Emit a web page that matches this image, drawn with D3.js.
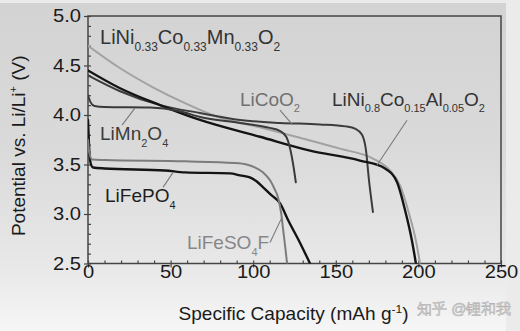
<!DOCTYPE html>
<html><head><meta charset="utf-8">
<script src="https://cdn.jsdelivr.net/npm/d3@7"></script>
<style>
html,body{margin:0;padding:0;background:#e9e9e9;}
svg{display:block;}
text{font-family:"Liberation Sans",Arial,Helvetica,sans-serif;}
</style></head><body>
<svg id="c" width="520" height="331"></svg>
<script>
// ---- data (capacity mAh/g, potential V) ----
const xTicks = [0, 50, 100, 150, 200, 250];
const xTickLabels = ["0", "50", "100", "150", "200", "250"];
const yTicks = [2.5, 3.0, 3.5, 4.0, 4.5, 5.0];
const yTickLabels = ["2.5", "3.0", "3.5", "4.0", "4.5", "5.0"];

const ncm = [[0,4.70],[18.8,4.48],[39.3,4.28],[58.7,4.12],[78.7,3.98],[102.9,3.88],[128.3,3.77],[152.5,3.66],[172.5,3.56],[182.8,3.44],[188.9,3.29],[194.9,2.97],[198.5,2.73],[201,2.5]];
const lco = [[0,4.40],[19.4,4.24],[43.6,4.10],[67.8,4.02],[92,3.95],[116.2,3.92],[140.4,3.905],[156,3.885],[162,3.86],[165.9,3.80],[168.3,3.64],[170.1,3.34],[172.5,3.02]];
const nca = [[0,4.45],[19.4,4.27],[43.6,4.10],[67.8,3.95],[104.1,3.78],[134.4,3.64],[164.6,3.54],[179.8,3.46],[187.1,3.32],[191.9,3.04],[196.1,2.73],[198.5,2.5]];
const lmo = [[0,4.20],[1.5,4.13],[4,4.09],[10,4.08],[37.5,4.075],[55,4.04],[67.8,3.98],[92,3.92],[110,3.87],[116,3.84],[120,3.78],[122.5,3.65],[124.2,3.50],[125.8,3.32]];
const lfp = [[0,3.95],[0.6,3.70],[1.5,3.52],[3,3.47],[10,3.46],[46.6,3.44],[58.7,3.42],[86,3.41],[92,3.39],[98,3.37],[102,3.33],[106,3.27],[111,3.19],[116.2,3.11],[121.1,2.94],[128.3,2.71],[134.4,2.5]];
const lfsf = [[0,3.75],[0.8,3.62],[2.5,3.55],[10,3.545],[58.7,3.532],[89,3.515],[96,3.50],[101,3.47],[106,3.42],[110.2,3.34],[113,3.25],[115,3.17],[117,3.00],[118,2.86],[119.5,2.65],[120.5,2.5]];

const seriesNames = ["NCM","LCO","NCA","LMO","LFP","LFSF"];
const seriesData = [ncm, lco, nca, lmo, lfp, lfsf];
const seriesColors = ["#a2a2a2","#3c3c3c","#141414","#3a3a3a","#141414","#7c7c7c"];
const seriesWidths = [2, 2, 2.4, 2, 2.4, 2];

// labels: [parts], anchor (capacity, potential), colour, size
const labels = [
  {parts:[["LiNi",0],["0.33",1],["Co",0],["0.33",1],["Mn",0],["0.33",1],["O",0],["2",1]], at:[7.3,4.717], color:"#333", size:20, sub:12},
  {parts:[["LiCoO",0],["2",1]], at:[92.0,4.089], color:"#707070", size:19, sub:11},
  {parts:[["LiNi",0],["0.8",1],["Co",0],["0.15",1],["Al",0],["0.05",1],["O",0],["2",1]], at:[147.7,4.089], color:"#333", size:19, sub:11},
  {parts:[["LiMn",0],["2",1],["O",0],["4",1]], at:[7.3,3.745], color:"#3c3c3c", size:19, sub:11},
  {parts:[["LiFePO",0],["4",1]], at:[10.3,3.117], color:"#1e1e1e", size:19, sub:11},
  {parts:[["LiFeSO",0],["4",1],["F",0]], at:[59.9,2.642], color:"#878787", size:19, sub:11}
];
const leaders = [
  [[116.2,4.049],[123.5,3.907]],
  [[193.1,3.947],[174.9,3.492]],
  [[20.6,3.897],[28.4,4.069]],
  [[45.4,3.269],[51.5,3.421]],
  [[110.2,2.713],[117.4,2.966]]
];

// ---- drawing ----
const svg = d3.select("#c");
const W = 520, H = 331;
const x = d3.scaleLinear().domain([0,250]).range([88,501]);
const y = d3.scaleLinear().domain([2.5,5]).range([263.5,16]);
const SX = 1.12;

const defs = svg.append("defs");
const g1 = defs.append("linearGradient").attr("id","bg").attr("x1",0).attr("y1",0).attr("x2",0).attr("y2",1);
g1.append("stop").attr("offset","0").attr("stop-color","#d3d3d3");
g1.append("stop").attr("offset","0.45").attr("stop-color","#dadada");
g1.append("stop").attr("offset","0.8").attr("stop-color","#e8e8e8");
g1.append("stop").attr("offset","1").attr("stop-color","#f6f6f6");
svg.append("rect").attr("width",W).attr("height",H).attr("fill","#ebebeb");
svg.append("rect").attr("x",0).attr("y",3).attr("width",506).attr("height",H-3).attr("fill","url(#bg)");

// axes
const axB = svg.append("g").attr("transform",`translate(0,${y(2.5)})`)
  .call(d3.axisBottom(x).tickValues(xTicks).tickFormat((d,i)=>xTickLabels[i]).tickSizeInner(4).tickSizeOuter(0).tickPadding(-2));
const axBm = svg.append("g").attr("transform",`translate(0,${y(2.5)})`)
  .call(d3.axisTop(x).tickValues(d3.range(0,251,10)).tickFormat("").tickSizeInner(3).tickSizeOuter(0));
const axL = svg.append("g").attr("transform",`translate(${x(0)},0)`)
  .call(d3.axisLeft(y).tickValues(yTicks).tickFormat((d,i)=>yTickLabels[i]).tickSizeInner(4).tickSizeOuter(0).tickPadding(3));
const axLm = svg.append("g").attr("transform",`translate(${x(0)},0)`)
  .call(d3.axisRight(y).tickValues(d3.range(25,51,1).map(v=>v/10)).tickFormat("").tickSizeInner(3).tickSizeOuter(0));
[axB,axBm,axL,axLm].forEach(a=>{a.select(".domain").remove(); a.selectAll("line").attr("stroke","#444").attr("stroke-width",1.2);});
axB.selectAll("text").attr("font-size",18).attr("fill","#1a1a1a")
  .attr("transform",`scale(${SX},1)`);
axL.selectAll("text").attr("font-size",18).attr("fill","#1a1a1a")
  .attr("transform",function(){const tx=+d3.select(this).attr("x");return `translate(${tx},0) scale(${SX},1) translate(${-tx},0)`;});

// frame
svg.append("rect").attr("x",x(0)).attr("y",y(5)).attr("width",x(250)-x(0)).attr("height",y(2.5)-y(5))
  .attr("fill","none").attr("stroke","#444").attr("stroke-width",1.5);

// curves
const line = d3.line().x(d=>x(d[0])).y(d=>y(d[1])).curve(d3.curveMonotoneX);
const clip = defs.append("clipPath").attr("id","pc");
clip.append("rect").attr("x",x(0)).attr("y",y(5)).attr("width",x(250)-x(0)).attr("height",y(2.5)-y(5));
const curves = svg.append("g").attr("clip-path","url(#pc)");
seriesData.forEach((s,i)=>{
  curves.append("path").datum(s).attr("d",line).attr("fill","none")
    .attr("stroke",seriesColors[i]).attr("stroke-width",seriesWidths[i])
    .attr("stroke-linejoin","round").attr("stroke-linecap","round");
});

// leaders
leaders.forEach(l=>{
  svg.append("line").attr("x1",x(l[0][0])).attr("y1",y(l[0][1])).attr("x2",x(l[1][0])).attr("y2",y(l[1][1]))
    .attr("stroke","#7a7a7a").attr("stroke-width",1.1);
});

// labels with subscripts
labels.forEach(lb=>{
  const t = svg.append("text").attr("x",x(lb.at[0])).attr("y",y(lb.at[1])).attr("fill",lb.color).attr("font-size",lb.size);
  let shifted = false;
  lb.parts.forEach(p=>{
    const ts = t.append("tspan").text(p[0]);
    if(p[1]===1){ ts.attr("font-size",lb.sub); if(!shifted){ts.attr("dy",lb.size*0.33); shifted=true;} }
    else if(shifted){ ts.attr("dy",-lb.size*0.33); shifted=false; }
  });
});

// axis titles
const xt = svg.append("text").attr("transform",`translate(${(x(0)+x(250))/2-1},320) scale(1.09,1)`)
  .attr("text-anchor","middle").attr("font-size",17.5).attr("fill","#1a1a1a");
xt.append("tspan").text("Specific Capacity (mAh g");
xt.append("tspan").text("-1").attr("font-size",11).attr("dy",-7);
xt.append("tspan").text(")").attr("dy",7);

const yt = svg.append("text").attr("transform",`translate(25,${(y(2.5)+y(5))/2+6}) rotate(-90)`)
  .attr("text-anchor","middle").attr("font-size",19).attr("fill","#1a1a1a");
yt.append("tspan").text("Potential vs. Li/Li");
yt.append("tspan").text("+").attr("font-size",11).attr("dy",-8);
yt.append("tspan").text(" (V)").attr("dy",8);

// watermark
svg.append("text").attr("x",417).attr("y",314).attr("font-size",15)
  .attr("font-family","'Noto Sans CJK SC',sans-serif").attr("fill","#dcdcdc")
  .attr("stroke","#b4b4b4").attr("stroke-width",0.6).text("知乎 @锂和我");
</script>
</body></html>
